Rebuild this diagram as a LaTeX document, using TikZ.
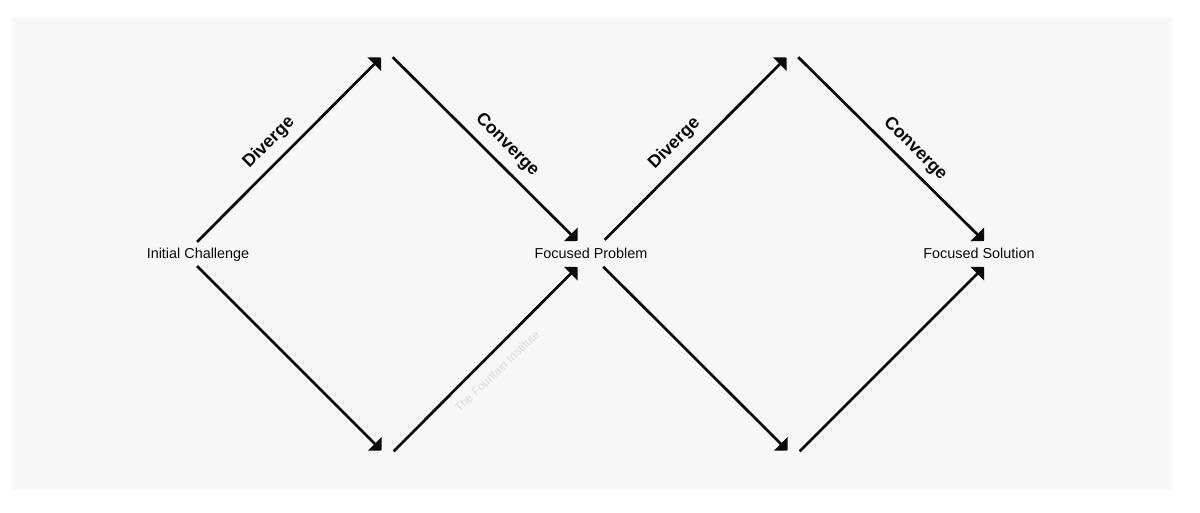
\documentclass[tikz,border=0pt]{standalone}
\usepackage{fontspec}
\setmainfont{Liberation Sans}
\usetikzlibrary{arrows.meta}
\definecolor{panel}{HTML}{F7F7F7}
\definecolor{mark}{HTML}{DADADA}
\definecolor{ink}{HTML}{0A0A0A}
\tikzset{
  x=1pt,y=-1pt,
  conn/.style={draw=ink,line width=2.7pt,shorten <=#1,-{Triangle[length=9.5pt,width=19pt]}},
  conn/.default=17pt,
  stagelabel/.style={font=\fontsize{14.4pt}{16pt}\selectfont,text=ink,inner sep=0pt,anchor=base},
  phaselabel/.style={font=\bfseries\fontsize{17.7pt}{20pt}\selectfont,text=ink,inner sep=0pt},
  watermark/.style={font=\fontsize{11.5pt}{13pt}\selectfont,text=mark,inner sep=0pt,rotate=43.5},
}
\begin{document}
\begin{tikzpicture}
\useasboundingbox (0,0) rectangle (1200,513);
\fill[panel] (12,17) rectangle (1172,489);
\coordinate (hubA) at (185,254);
\coordinate (hubB) at (590.5,254);
\coordinate (hubC) at (997,254);
\coordinate (topA) at (387,51.5);
\coordinate (botA) at (388,457);
\coordinate (topB) at (792.5,51.5);
\coordinate (botB) at (794,457);
\node[stagelabel] (initial) at (198,258.5) {Initial Challenge};
\node[stagelabel] (problem) at (591,258.5) {Focused Problem};
\node[stagelabel] (solution) at (979,258.5) {Focused Solution};
\node[phaselabel,rotate=45] (div1) at (269,142.5) {Diverge};
\node[phaselabel,rotate=-45] (con1) at (507,145) {Converge};
\node[phaselabel,rotate=45] (div2) at (674.5,143.5) {Diverge};
\node[phaselabel,rotate=-45] (con2) at (915,149) {Converge};
\node[watermark] (wm) at (497,371) {The Fountain Institute};
\draw[conn] (hubA) -- ([shift={(-6,6)}]topA);
\draw[conn] (hubA) -- ([shift={(-6.5,-6.5)}]botA);
\draw[conn=8pt] (topA) -- ([shift={(-13,-13)}]hubB);
\draw[conn=8pt] (botA) -- ([shift={(-13,13)}]hubB);
\draw[conn=20pt] (hubB) -- ([shift={(-6,6)}]topB);
\draw[conn=18pt] (hubB) -- ([shift={(-6.5,-6.5)}]botB);
\draw[conn=8pt] (topB) -- ([shift={(-13,-13)}]hubC);
\draw[conn=8pt] (botB) -- ([shift={(-13,13)}]hubC);
\end{tikzpicture}
\end{document}
